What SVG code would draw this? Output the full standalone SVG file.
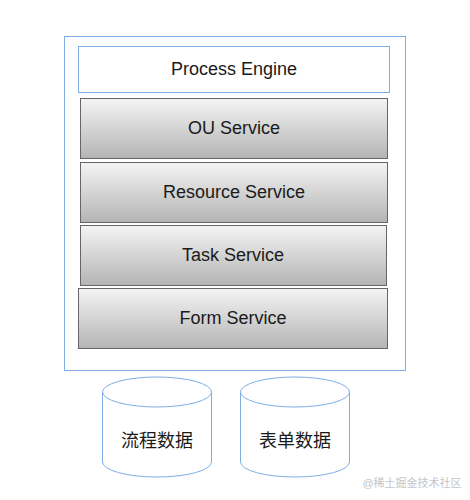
<svg xmlns="http://www.w3.org/2000/svg" width="470" height="500" viewBox="0 0 470 500">
<defs>
<linearGradient id="g" x1="0" y1="0" x2="0" y2="1">
<stop offset="0" stop-color="#f4f4f4"/>
<stop offset="1" stop-color="#b4b4b4"/>
</linearGradient>
<style>
.blue{fill:#ffffff;stroke:#7eaee3;stroke-width:1}
.svc{fill:url(#g);stroke:#666666;stroke-width:1}
.t{font-family:"Liberation Sans",Arial,sans-serif;font-size:18px;fill:#1a1a1a;text-anchor:middle}
.c{font-family:"Liberation Sans","Noto Sans CJK SC",sans-serif;font-size:18px;fill:#1a1a1a;text-anchor:middle}
.cyl{fill:#ffffff;stroke:#7eaee3;stroke-width:1}
</style>
</defs>
<rect width="470" height="500" fill="#ffffff"/>
<g id="container"><rect class="blue" x="64.5" y="36.5" width="341" height="334"/></g>
<g id="process-engine"><rect class="blue" x="78.5" y="46.5" width="311" height="46"/><text class="t" x="234" y="75">Process Engine</text></g>
<g id="ou-service"><rect class="svc" x="80.5" y="98.5" width="307" height="60"/><text class="t" x="234" y="134">OU Service</text></g>
<g id="resource-service"><rect class="svc" x="80.5" y="162.5" width="307" height="60"/><text class="t" x="234" y="198">Resource Service</text></g>
<g id="task-service"><rect class="svc" x="80.5" y="225.5" width="306" height="60"/><text class="t" x="233" y="261">Task Service</text></g>
<g id="form-service"><rect class="svc" x="78.5" y="288.5" width="309" height="60"/><text class="t" x="233" y="324">Form Service</text></g>
<g id="process-data">
<path class="cyl" d="M102.5 392 A54.5 15 0 0 1 211.5 392 L211.5 462 A54.5 15 0 0 1 102.5 462 Z"/>
<path class="cyl" fill="none" d="M102.5 392 A54.5 15 0 0 0 211.5 392"/>
<text class="c" x="157" y="447">流程数据</text>
</g>
<g id="form-data">
<path class="cyl" d="M240.5 392 A54.5 15 0 0 1 349.5 392 L349.5 462 A54.5 15 0 0 1 240.5 462 Z"/>
<path class="cyl" fill="none" d="M240.5 392 A54.5 15 0 0 0 349.5 392"/>
<text class="c" x="295" y="447">表单数据</text>
</g>
<g id="connectors"></g>
<text x="412" y="487" font-family="'Liberation Sans','Noto Sans CJK SC',sans-serif" font-size="11" fill="#c4c4c4" text-anchor="middle">@稀土掘金技术社区</text>
</svg>
